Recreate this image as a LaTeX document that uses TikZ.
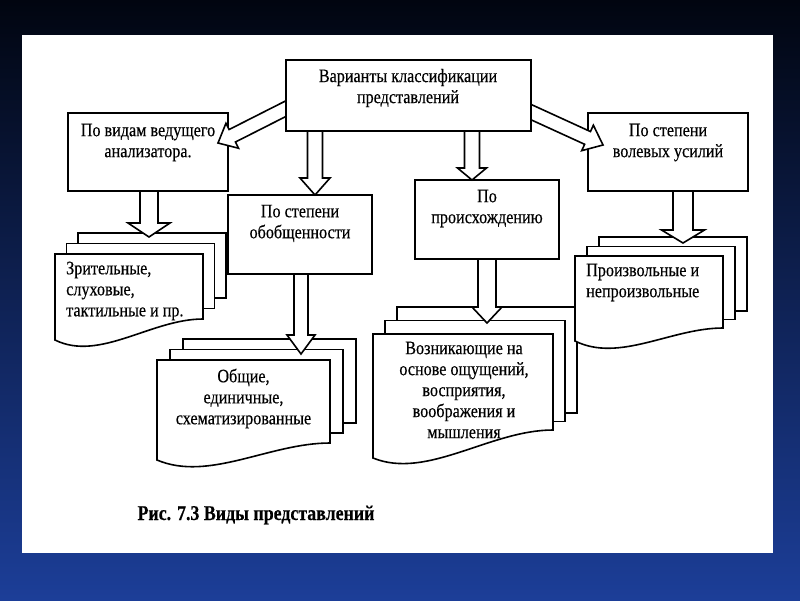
\documentclass[tikz,border=0pt]{standalone}
\usepackage{fontspec}
\setmainfont{Liberation Serif}[FakeStretch=0.85, FakeBold=0.35]
\usetikzlibrary{calc}
\definecolor{bgtop}{RGB}{1,5,16}
\definecolor{bgbot}{RGB}{28,62,152}
\tikzset{
  box/.style={draw=black, line width=1.6pt, fill=white, inner sep=0pt, outer sep=0pt},
  arr/.style={draw=black, line width=1.6pt, fill=white, line join=miter},
  txt/.style={font=\fontsize{19}{21}\selectfont, align=center, inner sep=0pt},
  ltxt/.style={font=\fontsize{19}{21}\selectfont, align=left, inner sep=0pt, anchor=west},
  captxt/.style={font=\fontsize{21}{22}\selectfont\bfseries, inner sep=0pt}
}
% L T R RB LB dx dy dybottom
\newcommand{\docstack}[8]{%
  \draw[box] ({#1+2*#6},{#2-2*#7}) rectangle ({#3+2*#6},{#4-2*#8});
  \draw[box] ({#1+#6},{#2-#7}) rectangle ({#3+#6},{#4-#8});
  \draw[box] (#1,#2) -- (#3,#2) -- (#3,#4) .. controls ({#3-0.35*(#3-#1)},#4) and ({#1+0.3*(#3-#1)},{#5+22}) .. (#1,#5) -- cycle;
}
% start end halfshaft halfhead headlength
\newcommand{\blockarrow}[5]{%
  \coordinate (hb) at ($(#2)!#5!(#1)$);
  \draw[arr] ($(#1)!#3!90:(#2)$) -- ($(hb)!#3!90:(#2)$) -- ($(hb)!#4!90:(#2)$) -- (#2)
    -- ($(hb)!#4!-90:(#2)$) -- ($(hb)!#3!-90:(#2)$) -- ($(#1)!#3!-90:(#2)$) -- cycle;
}
\begin{document}
\begin{tikzpicture}[x=1pt,y=-1pt]
\useasboundingbox (0,0) rectangle (800,600);
\shade[top color=bgtop, bottom color=bgbot] (0,0) rectangle (800,600);
\fill[white] (22,35) rectangle (773,553);

% document stacks
\docstack{55}{254}{203}{319}{340}{11.5}{10.5}{10.5}
\docstack{157}{360}{330}{443}{460}{13}{10.5}{10}
\docstack{373}{334}{553}{430}{458}{12}{13.5}{8.5}
\docstack{575}{256}{723}{328}{341}{12}{9.5}{8.5}

% second-level boxes
\node[box, minimum width=160pt, minimum height=78pt] (lbox) at (148,152) {};
\node[box, minimum width=144pt, minimum height=79pt] (gbox) at (300,234.5) {};
\node[box, minimum width=144pt, minimum height=79pt] (obox) at (487,219.5) {};
\node[box, minimum width=160pt, minimum height=78pt] (rbox) at (668,152) {};

% arrow end points
\coordinate (a1s) at (296,103.5);
\coordinate (a1e) at (218,143);
\coordinate (a2s) at (521,107.5);
\coordinate (a2e) at (603,145);
\coordinate (a3s) at (315,125);
\coordinate (a3e) at (315,195);
\coordinate (a4s) at (472,125);
\coordinate (a4e) at (472,180);
\coordinate (a5s) at (149,191);
\coordinate (a5e) at (149,237);
\coordinate (a6s) at (301,274);
\coordinate (a6e) at (301,354);
\coordinate (a7s) at (487,259);
\coordinate (a7e) at (487,323);
\coordinate (a8s) at (683,191);
\coordinate (a8e) at (683,243);

\blockarrow{a5s}{a5e}{9pt}{21pt}{14pt}
\blockarrow{a6s}{a6e}{7pt}{14pt}{19pt}
\blockarrow{a7s}{a7e}{9pt}{15pt}{16pt}
\blockarrow{a8s}{a8e}{10pt}{21.5pt}{13pt}
\blockarrow{a1s}{a1e}{7pt}{14pt}{16pt}
\blockarrow{a2s}{a2e}{7pt}{14pt}{17pt}
\blockarrow{a3s}{a3e}{7.5pt}{15pt}{17pt}
\blockarrow{a4s}{a4e}{7.5pt}{14.5pt}{12pt}

% top box
\node[box, minimum width=245pt, minimum height=71pt] (top) at (408.5,95.5) {};

% texts
\node[txt] (toptxt) at (408,88) {Варианты классификации\\представлений};
\node[txt] (ltxt) at (148,142.5) {По видам ведущего\\анализатора.};
\node[txt] (gtxt) at (300,223.5) {По степени\\обобщенности};
\node[txt] (otxt) at (487,208.5) {По\\происхождению};
\node[txt] (rtxt) at (668,142.5) {По степени\\волевых усилий};
\node[ltxt] (s1txt) at (66,291) {Зрительные,\\слуховые,\\тактильные и пр.};
\node[txt] (s2txt) at (243.5,398.5) {Общие,\\единичные,\\схематизированные};
\node[txt] (s3txt) at (464,390) {Возникающие на\\основе ощущений,\\восприятия,\\воображения и\\мышления};
\node[ltxt] (s4txt) at (586,282.5) {Произвольные и\\непроизвольные};
\node[captxt] (cap) at (256,515) {Рис. 7.3 Виды представлений};
\end{tikzpicture}
\end{document}
